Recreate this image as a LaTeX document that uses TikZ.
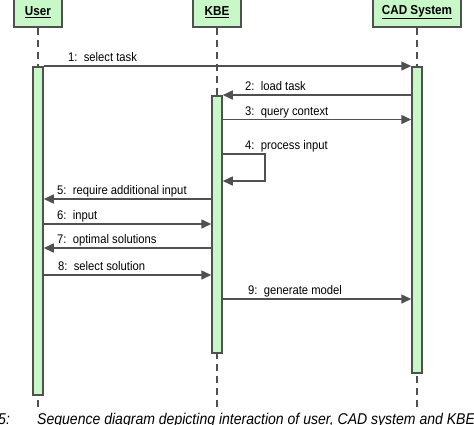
\documentclass[tikz,border=0pt]{standalone}
\usepackage{fontspec}
\setmainfont[FakeStretch=0.9]{Liberation Sans}
\usetikzlibrary{arrows.meta}

\definecolor{barfill}{HTML}{C8F7C8}
\definecolor{linegray}{HTML}{505050}

\tikzset{
	head/.style={draw=linegray, line width=1.5pt, fill=barfill, minimum height=30pt, inner sep=0pt, font=\fontsize{13}{15}\selectfont\bfseries},
	bar/.style={draw=linegray, line width=1.5pt, fill=barfill, minimum width=10pt, inner sep=0pt, anchor=north},
	life/.style={draw=linegray, line width=1.3pt, dash pattern=on 7pt off 5pt},
	msg/.style={draw=linegray, line width=1.5pt, -{Triangle[length=10pt,width=9pt]}},
	msgtext/.style={anchor=base west, inner sep=0pt, font=\fontsize{12.5}{14}\selectfont}
}

% name, from, to, y, label x, label
\newcommand{\callmsg}[6]{
	\coordinate (#1a) at (#2 |- 0,#4);
	\coordinate (#1b) at (#3 |- 0,#4);
	\draw[msg] (#1a) -- (#1b);
	\node[msgtext] (#1t) at (#5,#4-4.5) {#6};
}

\begin{document}
\begin{tikzpicture}[x=1pt, y=-1pt]
\useasboundingbox (0,0) rectangle (474,424);

\pgfmathsetmacro{\userX}{38}
\pgfmathsetmacro{\kbeX}{217}
\pgfmathsetmacro{\cadX}{417}

% lifelines
\node[head, minimum width=48pt] (user) at (\userX,12) {\underline{User}};
\node[head, minimum width=48pt] (kbe) at (\kbeX,12) {\underline{KBE}};
\node[head, minimum width=88pt] (cad) at (\cadX,12) {\underline{CAD System}};

\coordinate (userend) at (\userX,407);
\coordinate (kbeend) at (\kbeX,407);
\coordinate (cadend) at (\cadX,407);
\draw[life] (user.south) -- (userend);
\draw[life] (kbe.south) -- (kbeend);
\draw[life] (cad.south) -- (cadend);

% activations
\node[bar, minimum height=328pt] (userbar) at (\userX,66) {};
\node[bar, minimum height=257pt] (kbebar) at (\kbeX,95) {};
\node[bar, minimum height=306pt] (cadbar) at (\cadX,66) {};

% messages
\callmsg{m1}{userbar.east}{cadbar.west}{66}{68}{1:\ \ select task}
\callmsg{m2}{cadbar.west}{kbebar.east}{95}{245}{2:\ \ load task}
\callmsg{m3}{kbebar.east}{cadbar.west}{119.5}{245}{3:\ \ query context}

\coordinate (m4a) at (kbebar.east |- 0,154);
\coordinate (m4c) at (265,154);
\coordinate (m4b) at (kbebar.east |- 0,181);
\draw[msg] (m4a) -- (m4c) |- (m4b);
\node[msgtext] (m4t) at (245,149.5) {4:\ \ process input};

\callmsg{m5}{kbebar.west}{userbar.east}{199}{57}{5:\ \ require additional input}
\callmsg{m6}{userbar.east}{kbebar.west}{224}{57}{6:\ \ input}
\callmsg{m7}{kbebar.west}{userbar.east}{248}{57}{7:\ \ optimal solutions}
\callmsg{m8}{userbar.east}{kbebar.west}{275}{58}{8:\ \ select solution}
\callmsg{m9}{kbebar.east}{cadbar.west}{299}{248}{9:\ \ generate model}

\node[anchor=base west, inner sep=0pt, font=\fontsize{15.6}{17}\selectfont\itshape] (caption) at (-2,424.5) {\makebox[39pt][l]{5:}Sequence diagram depicting interaction of user, CAD system and KBE};
\end{tikzpicture}
\end{document}
